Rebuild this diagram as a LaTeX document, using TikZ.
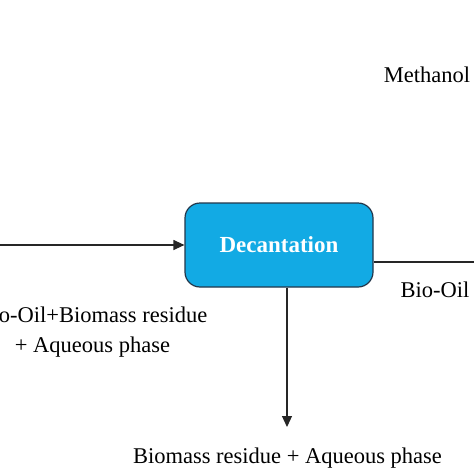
\documentclass[tikz,border=0pt]{standalone}
\usepackage{fontspec}
\setmainfont{Liberation Serif}
\usetikzlibrary{arrows.meta}
\definecolor{boxfill}{RGB}{18,170,228}
\definecolor{boxline}{RGB}{35,55,75}
\tikzset{
  procbox/.style={draw=boxline, line width=1.2pt, fill=boxfill, rounded corners=15pt,
    minimum width=188pt, minimum height=84pt, inner sep=0pt,
    font=\fontsize{23}{27}\selectfont\bfseries, text=white},
  lbl/.style={font=\fontsize{22.5}{30}\selectfont, text=black, inner sep=0pt, align=center},
  flow/.style={line width=1.2pt, draw=black!85},
  arr/.style={flow, -{Triangle[length=11pt,width=10pt]}}
}
\begin{document}
\begin{tikzpicture}[x=1pt,y=-1pt]
\clip (0,0) rectangle (474,474);
\fill[white] (0,0) rectangle (474,474);
\node[procbox] (dec) at (279,245) {Decantation};
\coordinate (lin) at (0,245);
\coordinate (rout) at (474,262);
\coordinate (dout) at (287,427);
\node[lbl] (meth) at (427,75) {Methanol};
\node[lbl] (bio) at (435,290) {Bio-Oil};
\node[lbl] (mix) at (92.5,332) {Bio-Oil+Biomass residue\\+ Aqueous phase};
\node[lbl] (res) at (287.5,458) {Biomass residue + Aqueous phase};
\draw[arr] (lin) -- (dec.west);
\draw[flow] (dec.east |- rout) -- (rout);
\draw[arr] (dout |- dec.south) -- (dout);
\end{tikzpicture}
\end{document}
